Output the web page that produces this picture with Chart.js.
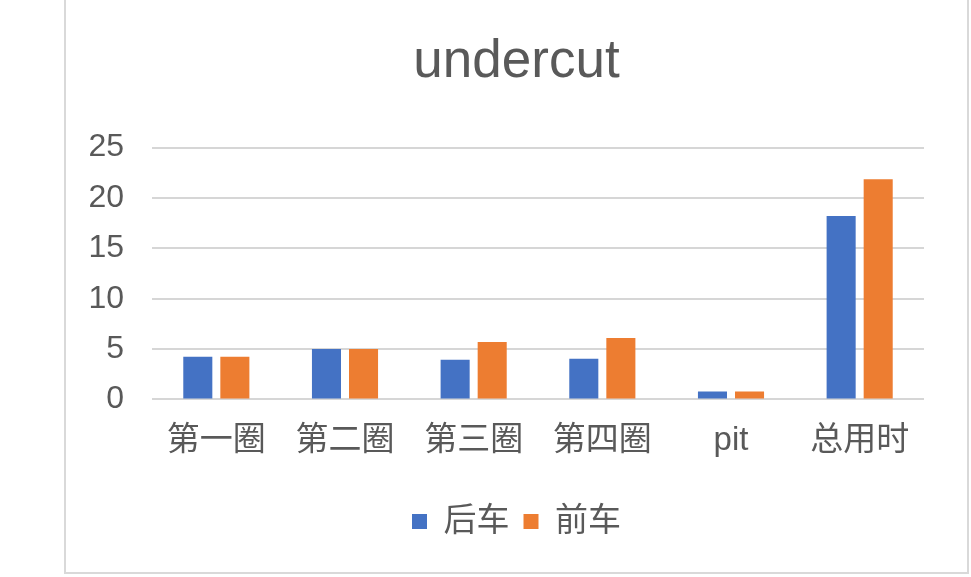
<!DOCTYPE html>
<html>
<head>
<meta charset="utf-8">
<script src="https://cdn.jsdelivr.net/npm/chart.js@4"></script>
<style>
  html, body { margin: 0; padding: 0; background: #fff; }
  body { width: 971px; height: 577px; position: relative; overflow: hidden; }
  #frame {
    position: absolute; left: 64px; top: -4px; width: 901px; height: 574px;
    border: 2px solid #d9d9d9; background: #fff;
  }
  #wrap { position: absolute; left: 0; top: 4px; width: 901px; height: 570px; }
</style>
</head>
<body>
<div id="frame"><div id="wrap"><canvas id="chart"></canvas></div></div>
<script>
const FONT = '"Liberation Sans", "Noto Sans CJK SC", sans-serif';
const TEXT = "#595959";

const categories = ["第一圈", "第二圈", "第三圈", "第四圈", "pit", "总用时"];
const rearCar = [4.23, 5.0, 3.94, 4.03, 0.79, 18.2];
const frontCar = [4.23, 5.0, 5.7, 6.1, 0.79, 21.85];
const yTicks = [0, 5, 10, 15, 20, 25];

new Chart(document.getElementById("chart"), {
  type: "bar",
  data: {
    labels: categories,
    datasets: [
      { label: "后车", data: rearCar, backgroundColor: "#4472C4" },
      { label: "前车", data: frontCar, backgroundColor: "#ED7D31" },
    ],
  },
  options: {
    responsive: true, maintainAspectRatio: false, animation: false,
    devicePixelRatio: 1,
    layout: { padding: { left: 0, right: 0, top: 0, bottom: 24 } },
    datasets: { bar: { categoryPercentage: 0.576, barPercentage: 0.784 } },
    plugins: {
      title: {
        display: true, text: "undercut", color: TEXT,
        font: { family: FONT, size: 53, weight: "normal" },
        padding: { top: 29, bottom: 53 },
      },
      legend: {
        position: "bottom",
        labels: {
          color: TEXT, boxWidth: 15, boxHeight: 15, padding: 14,
          font: { family: FONT, size: 33 },
        },
      },
      tooltip: { enabled: false },
    },
    scales: {
      x: {
        grid: { display: false, drawTicks: false },
        border: { display: false },
        ticks: { color: TEXT, font: { family: FONT, size: 33 }, padding: 22, maxRotation: 0 },
        afterFit: (axis) => { axis.height += 8; },
      },
      y: {
        min: 0, max: 25,
        afterBuildTicks: (axis) => { axis.ticks = yTicks.map((v) => ({ value: v })); },
        afterFit: (axis) => { axis.width = 86; },
        grid: { color: "#d6d6d6", lineWidth: 2, drawTicks: false },
        border: { display: false },
        ticks: { color: TEXT, font: { family: FONT, size: 32 }, padding: 28 },
      },
      // empty right-hand axis, only keeps the right margin so the title stays centred
      yRight: {
        position: "right", min: 0, max: 25,
        afterFit: (axis) => { axis.width = 43; },
        grid: { display: false, drawTicks: false },
        border: { display: false },
        ticks: { display: false },
      },
    },
  },
});
</script>
</body>
</html>
